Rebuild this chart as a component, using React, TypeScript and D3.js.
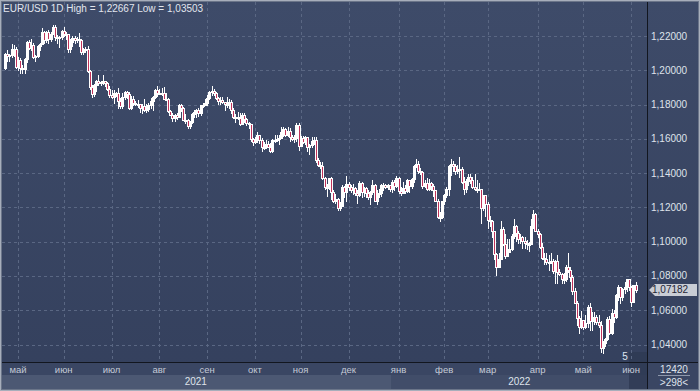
import * as d3 from "d3";
import { useEffect } from "react";

// trading days (Mon-Fri) from 23 Apr 2021 to 3 Jun 2022
const startDate = new Date(2021, 3, 23);
const endDate = new Date(2022, 5, 4);
const firstOpen = 1.2013; // close of 22 Apr 2021

const closes = [
  // apr 2021
  1.2096, 1.2084, 1.2089, 1.2125, 1.2125, 1.2020,
  // may
  1.2062, 1.2016, 1.2005, 1.2066, 1.2164, 1.2132, 1.2150, 1.2077, 1.2081, 1.2144, 1.2153, 1.2223, 1.2175, 1.2226, 1.2180, 1.2214, 1.2250, 1.2192, 1.2193, 1.2193, 1.2228,
  // jun
  1.2213, 1.2212, 1.2127, 1.2166, 1.2191, 1.2174, 1.2180, 1.2174, 1.2108, 1.2122, 1.2125, 1.1996, 1.1905, 1.1860, 1.1916, 1.1940, 1.1925, 1.1931, 1.1936, 1.1925, 1.1893, 1.1858,
  // jul
  1.1846, 1.1865, 1.1866, 1.1823, 1.1791, 1.1844, 1.1875, 1.1861, 1.1777, 1.1834, 1.1810, 1.1806, 1.1801, 1.1781, 1.1794, 1.1771, 1.1772, 1.1800, 1.1820, 1.1843, 1.1886, 1.1870,
  // aug
  1.1870, 1.1867, 1.1834, 1.1833, 1.1761, 1.1738, 1.1719, 1.1739, 1.1728, 1.1797, 1.1778, 1.1712, 1.1709, 1.1674, 1.1700, 1.1745, 1.1755, 1.1771, 1.1750, 1.1795, 1.1800, 1.1808,
  // sep
  1.1838, 1.1874, 1.1880, 1.1870, 1.1840, 1.1818, 1.1827, 1.1813, 1.1806, 1.1804, 1.1817, 1.1766, 1.1727, 1.1726, 1.1723, 1.1688, 1.1740, 1.1718, 1.1695, 1.1684, 1.1597, 1.1580,
  // oct
  1.1595, 1.1620, 1.1595, 1.1555, 1.1553, 1.1570, 1.1552, 1.1530, 1.1595, 1.1596, 1.1601, 1.1607, 1.1638, 1.1656, 1.1624, 1.1645, 1.1609, 1.1597, 1.1604, 1.1681, 1.1558,
  // nov
  1.1606, 1.1580, 1.1610, 1.1554, 1.1566, 1.1588, 1.1594, 1.1479, 1.1446, 1.1444, 1.1369, 1.1320, 1.1320, 1.1370, 1.1288, 1.1236, 1.1248, 1.1197, 1.1207, 1.1318, 1.1290, 1.1337,
  // dec
  1.1320, 1.1300, 1.1316, 1.1285, 1.1272, 1.1345, 1.1290, 1.1316, 1.1283, 1.1258, 1.1290, 1.1330, 1.1240, 1.1280, 1.1284, 1.1328, 1.1328, 1.1320, 1.1330, 1.1310, 1.1350, 1.1325, 1.1370,
  // jan 2022
  1.1295, 1.1286, 1.1315, 1.1296, 1.1359, 1.1325, 1.1365, 1.1440, 1.1455, 1.1410, 1.1405, 1.1325, 1.1345, 1.1310, 1.1345, 1.1325, 1.1300, 1.1240, 1.1145, 1.1145, 1.1235,
  // feb
  1.1270, 1.1305, 1.1440, 1.1455, 1.1440, 1.1415, 1.1425, 1.1425, 1.1350, 1.1305, 1.1355, 1.1375, 1.1360, 1.1320, 1.1305, 1.1310, 1.1305, 1.1195, 1.1270, 1.1220,
  // mar
  1.1125, 1.1120, 1.1065, 1.0930, 1.0855, 1.0900, 1.1075, 1.0985, 1.0915, 1.0940, 1.0955, 1.1035, 1.1090, 1.1050, 1.1015, 1.1030, 1.1005, 1.0995, 1.0985, 1.0985, 1.1090, 1.1160, 1.1065,
  // apr
  1.1045, 1.0970, 1.0905, 1.0900, 1.0880, 1.0875, 1.0890, 1.0830, 1.0890, 1.0825, 1.0810, 1.0780, 1.0785, 1.0855, 1.0835, 1.0795, 1.0710, 1.0640, 1.0555, 1.0500, 1.0545,
  // may
  1.0505, 1.0525, 1.0620, 1.0540, 1.0550, 1.0560, 1.0530, 1.0515, 1.0380, 1.0410, 1.0435, 1.0550, 1.0465, 1.0585, 1.0560, 1.0690, 1.0735, 1.0675, 1.0725, 1.0735, 1.0780, 1.0735,
  // jun
  1.0650, 1.0750, 1.07182,
];

const highs = [
  1.2100, 1.2117, 1.2093, 1.2151, 1.2150, 1.2135,
  1.2080, 1.2070, 1.2030, 1.2070, 1.2172, 1.2178, 1.2181, 1.2162, 1.2087, 1.2150, 1.2160, 1.2245, 1.2230, 1.2230, 1.2234, 1.2226, 1.22667, 1.2262, 1.2207, 1.2200, 1.2233,
  1.2254, 1.2226, 1.2214, 1.2185, 1.2200, 1.2198, 1.2195, 1.2218, 1.2180, 1.2132, 1.2137, 1.2140, 1.2000, 1.1912, 1.1922, 1.1942, 1.1975, 1.1940, 1.1975, 1.1940, 1.1932, 1.1907,
  1.1886, 1.1883, 1.1876, 1.1895, 1.1838, 1.1868, 1.1880, 1.1880, 1.1873, 1.1850, 1.1850, 1.1822, 1.1829, 1.1805, 1.1805, 1.1830, 1.1804, 1.1810, 1.1840, 1.1850, 1.1893, 1.1908,
  1.1892, 1.1896, 1.1900, 1.1865, 1.1840, 1.1771, 1.1750, 1.1745, 1.1749, 1.1801, 1.1805, 1.1785, 1.1747, 1.1714, 1.1702, 1.1750, 1.1770, 1.1775, 1.1780, 1.1800, 1.1809, 1.1832,
  1.1857, 1.1877, 1.1909, 1.1888, 1.1872, 1.1847, 1.1845, 1.1847, 1.1812, 1.1846, 1.1831, 1.1824, 1.1780, 1.1745, 1.1755, 1.1750, 1.1750, 1.1750, 1.1720, 1.1700, 1.1686, 1.1603,
  1.1610, 1.1640, 1.1624, 1.1605, 1.1581, 1.1595, 1.1590, 1.1575, 1.1600, 1.1624, 1.1620, 1.1620, 1.1669, 1.1668, 1.1665, 1.1670, 1.1664, 1.1625, 1.1625, 1.1692, 1.1692,
  1.1617, 1.1614, 1.1616, 1.1611, 1.1572, 1.1610, 1.1610, 1.1609, 1.1489, 1.1464, 1.1464, 1.1380, 1.1334, 1.1374, 1.1375, 1.1300, 1.1277, 1.1252, 1.1229, 1.1330, 1.1324, 1.1383,
  1.1350, 1.1333, 1.1335, 1.1320, 1.1300, 1.1355, 1.1350, 1.1320, 1.1318, 1.1300, 1.1296, 1.1360, 1.1336, 1.1300, 1.1306, 1.1334, 1.1340, 1.1338, 1.1334, 1.1330, 1.1360, 1.1360, 1.1386,
  1.1376, 1.1321, 1.1346, 1.1330, 1.1364, 1.1360, 1.1370, 1.1450, 1.1482, 1.1470, 1.1430, 1.1410, 1.1359, 1.1369, 1.1363, 1.1348, 1.1336, 1.1303, 1.1248, 1.1175, 1.1240,
  1.1280, 1.1317, 1.1450, 1.1483, 1.1468, 1.1451, 1.1448, 1.1495, 1.1435, 1.1375, 1.1366, 1.1395, 1.1392, 1.1380, 1.1395, 1.1360, 1.1345, 1.1310, 1.1275, 1.1275,
  1.1230, 1.1150, 1.1125, 1.1065, 1.0935, 1.0935, 1.1120, 1.1085, 1.1045, 1.1015, 1.1015, 1.1045, 1.1135, 1.1100, 1.1065, 1.1045, 1.1035, 1.1025, 1.1010, 1.1000, 1.1135, 1.1185, 1.1170,
  1.1075, 1.1050, 1.0990, 1.0935, 1.0935, 1.0920, 1.0935, 1.0900, 1.0895, 1.0925, 1.0840, 1.0815, 1.0815, 1.0865, 1.0935, 1.0855, 1.0805, 1.0730, 1.0655, 1.0565, 1.0595,
  1.0545, 1.0575, 1.0630, 1.0640, 1.0590, 1.0590, 1.0575, 1.0575, 1.0535, 1.0420, 1.0440, 1.0560, 1.0565, 1.0605, 1.0600, 1.0695, 1.0750, 1.0735, 1.0730, 1.0765, 1.0785, 1.0785,
  1.0740, 1.0750, 1.0765,
];

const lows = [
  1.2005, 1.2055, 1.2056, 1.2077, 1.2083, 1.2016,
  1.2000, 1.1986, 1.1986, 1.1985, 1.2050, 1.2124, 1.2120, 1.2071, 1.2052, 1.2077, 1.2121, 1.2152, 1.2162, 1.2165, 1.2162, 1.2172, 1.2211, 1.2175, 1.2158, 1.2134, 1.2185,
  1.2200, 1.2182, 1.2104, 1.2104, 1.2144, 1.2160, 1.2164, 1.2144, 1.2093, 1.2093, 1.2106, 1.1990, 1.1892, 1.1847, 1.1849, 1.1880, 1.1915, 1.1912, 1.1922, 1.1910, 1.1885, 1.1846,
  1.1836, 1.1808, 1.1852, 1.1782, 1.1781, 1.1782, 1.1834, 1.1838, 1.1772, 1.1773, 1.1800, 1.1796, 1.1786, 1.1755, 1.1752, 1.1760, 1.1754, 1.1765, 1.1780, 1.1770, 1.1839, 1.1852,
  1.1862, 1.1853, 1.1832, 1.1830, 1.1754, 1.1737, 1.1706, 1.1705, 1.1716, 1.1725, 1.1762, 1.1710, 1.1694, 1.1663, 1.1664, 1.1695, 1.1730, 1.1728, 1.1735, 1.1740, 1.1785, 1.1796,
  1.1800, 1.1835, 1.1858, 1.1856, 1.1833, 1.1802, 1.1801, 1.1808, 1.1771, 1.1785, 1.1780, 1.1751, 1.1722, 1.1701, 1.1715, 1.1683, 1.1685, 1.1700, 1.1680, 1.1665, 1.1590, 1.1563,
  1.1575, 1.1584, 1.1578, 1.1529, 1.1540, 1.1544, 1.1550, 1.1524, 1.1523, 1.1584, 1.1586, 1.1571, 1.1603, 1.1619, 1.1618, 1.1618, 1.1590, 1.1592, 1.1584, 1.1586, 1.1535,
  1.1562, 1.1575, 1.1570, 1.1528, 1.1513, 1.1555, 1.1570, 1.1465, 1.1443, 1.1432, 1.1367, 1.1307, 1.1264, 1.1310, 1.1249, 1.1234, 1.1226, 1.1186, 1.1185, 1.1206, 1.1258, 1.1236,
  1.1300, 1.1288, 1.1277, 1.1270, 1.1227, 1.1265, 1.1262, 1.1265, 1.1260, 1.1250, 1.1222, 1.1280, 1.1235, 1.1222, 1.1260, 1.1264, 1.1300, 1.1315, 1.1305, 1.1295, 1.1290, 1.1300, 1.1320,
  1.1285, 1.1271, 1.1285, 1.1285, 1.1290, 1.1290, 1.1315, 1.1350, 1.1438, 1.1400, 1.1395, 1.1313, 1.1320, 1.1300, 1.1300, 1.1301, 1.1265, 1.1235, 1.1137, 1.1121, 1.1140,
  1.1220, 1.1262, 1.1270, 1.1390, 1.1410, 1.1397, 1.1403, 1.1375, 1.1340, 1.1280, 1.1290, 1.1330, 1.1340, 1.1315, 1.1300, 1.1290, 1.1300, 1.1106, 1.1185, 1.1150,
  1.1080, 1.1090, 1.1030, 1.0900, 1.0805, 1.0850, 1.0900, 1.0980, 1.0905, 1.0925, 1.0940, 1.0950, 1.1020, 1.1005, 1.0995, 1.0995, 1.0965, 1.0965, 1.0960, 1.0945, 1.0985, 1.1080, 1.1060,
  1.1030, 1.0965, 1.0900, 1.0870, 1.0870, 1.0835, 1.0875, 1.0820, 1.0760, 1.0760, 1.0805, 1.0760, 1.0760, 1.0770, 1.0825, 1.0770, 1.0695, 1.0640, 1.0515, 1.0470, 1.0495,
  1.0490, 1.0495, 1.0505, 1.0485, 1.0485, 1.0520, 1.0520, 1.0505, 1.0355, 1.03503, 1.0390, 1.0425, 1.0460, 1.0460, 1.0530, 1.0555, 1.0660, 1.0640, 1.0660, 1.0700, 1.0715, 1.0720,
  1.0625, 1.0650, 1.0705,
];

const priceTicks = [1.04, 1.06, 1.08, 1.1, 1.12, 1.14, 1.16, 1.18, 1.2, 1.22];
const monthNames = ["янв", "фев", "мар", "апр", "май", "июн", "июл", "авг", "сен", "окт", "ноя", "дек"];
const symbol = "EUR/USD 1D";
const counterTop = "12420";
const counterBottom = ">298<";
const cursorMark = "5";

const width = 700;
const height = 391;
const plotRight = 647;
const plotBottom = 362;

const fmt = (v: number) => d3.format(".5f")(v).replace(".", ",");

export default function App() {
  useEffect(() => {
    document.body.style.margin = "0";
  }, []);

  const days = d3.timeDay
    .range(startDate, endDate)
    .filter((d) => d.getDay() !== 0 && d.getDay() !== 6)
    .slice(0, closes.length);

  const candles = closes.map((c, i) => {
    const o = i === 0 ? firstOpen : closes[i - 1];
    return {
      date: days[i],
      o,
      c,
      h: Math.max(highs[i], o, c),
      l: Math.min(lows[i], o, c),
    };
  });

  const x = d3.scaleLinear().domain([0, candles.length - 1]).range([5, 635.5]);
  const y = d3.scaleLinear().domain([1.04, 1.22]).range([344.5, 36]);

  // first trading day of every month
  const monthStarts = candles
    .map((d, i) => ({ d, i }))
    .filter(({ d, i }) => i > 0 && d.date.getMonth() !== candles[i - 1].date.getMonth());

  const yearSplit = monthStarts.find(({ d }) => d.date.getFullYear() === 2022)!;
  const splitX = x(yearSplit.i) - 7;

  const hi = d3.max(candles, (d) => d.h)!;
  const lo = d3.min(candles, (d) => d.l)!;
  const last = candles[candles.length - 1].c;
  const title = `${symbol} High = ${fmt(hi)} Low = ${fmt(lo)}`;

  const font = "'Liberation Sans', Arial, sans-serif";

  return (
    <svg width={width} height={height} style={{ display: "block", fontFamily: font }}>
      <defs>
        <linearGradient id="bg" x1="0" y1="0" x2="0" y2="1">
          <stop offset="0" stopColor="#3e4b69" />
          <stop offset="1" stopColor="#34405d" />
        </linearGradient>
      </defs>
      <rect x={0} y={0} width={width} height={height} fill="url(#bg)" />

      {/* bottom axis strip */}
      <rect x={0} y={plotBottom} width={width} height={height - plotBottom} fill="#3a4663" />
      <rect x={0} y={375} width={splitX} height={14} fill="#4c5873" />
      <rect x={splitX} y={375} width={plotRight - splitX} height={14} fill="#414d69" />
      <rect x={629} y={352} width={18} height={37} fill="#2e3952" opacity={0.8} />

      {/* grid */}
      <g stroke="#5a6783" strokeDasharray="3,3" strokeWidth={1}>
        {priceTicks.map((t) => (
          <line key={t} x1={2} x2={plotRight} y1={Math.round(y(t)) + 0.5} y2={Math.round(y(t)) + 0.5} />
        ))}
        {monthStarts.map(({ i }) => (
          <line key={i} x1={Math.round(x(i)) + 0.5} x2={Math.round(x(i)) + 0.5} y1={2} y2={plotBottom} />
        ))}
      </g>

      {/* candles */}
      <g>
        {candles.map((d, i) => {
          const cx = Math.round(x(i));
          const up = d.c >= d.o;
          const top = Math.round(y(Math.max(d.o, d.c)));
          const bot = Math.round(y(Math.min(d.o, d.c)));
          return (
            <g key={i}>
              <line
                x1={cx + 0.5}
                x2={cx + 0.5}
                y1={Math.round(y(d.h))}
                y2={Math.round(y(d.l)) + 1}
                stroke="#ffffff"
              />
              <rect
                x={cx - 0.5}
                y={top + 0.5}
                width={2}
                height={Math.max(bot - top, 1)}
                fill={up ? "#ffffff" : "#c0325a"}
                stroke="#ffffff"
              />
            </g>
          );
        })}
      </g>

      {/* separators */}
      <line x1={plotRight + 0.5} x2={plotRight + 0.5} y1={0} y2={height} stroke="#12161f" />
      <line x1={0} x2={width} y1={plotBottom + 0.5} y2={plotBottom + 0.5} stroke="#12161f" />

      {/* right axis */}
      <g fontSize={10} fill="#dfe3eb">
        {priceTicks.map((t) => (
          <text key={t} x={651} y={y(t) + 3.5}>
            {fmt(t)}
          </text>
        ))}
      </g>

      {/* last price marker */}
      <g>
        <path
          d={`M649,${y(last)} L655,${y(last) - 6} L697,${y(last) - 6} L697,${y(last) + 6} L655,${y(last) + 6} Z`}
          fill="#c9cdd5"
        />
        <text x={652} y={y(last) + 3.5} fontSize={10} fill="#1f2535">
          {fmt(last)}
        </text>
      </g>

      {/* month labels */}
      <g fontSize={9.5} fill="#c4cad6" textAnchor="middle">
        {monthStarts.map(({ d, i }) => (
          <text key={i} x={x(i)} y={372.5}>
            {monthNames[d.date.getMonth()]}
          </text>
        ))}
      </g>
      <g fontSize={10} fill="#dfe3eb" textAnchor="middle">
        <text x={splitX / 2} y={385}>
          {candles[0].date.getFullYear()}
        </text>
        <text x={(splitX + plotRight) / 2} y={385}>
          {yearSplit.d.date.getFullYear()}
        </text>
      </g>

      <text x={625} y={360} fontSize={10} fill="#dfe6f2" textAnchor="middle">
        {cursorMark}
      </text>

      {/* counters */}
      <g fontSize={10} fill="#dfe3eb" textAnchor="middle">
        <text x={674} y={373}>{counterTop}</text>
        <line x1={658} x2={690} y1={375.5} y2={375.5} stroke="#8d97aa" />
        <text x={674} y={386}>{counterBottom}</text>
      </g>

      {/* title */}
      <text x={3} y={12} fontSize={10} fill="#e2e6ee">
        {title}
      </text>

      {/* frame */}
      <rect x={0.5} y={0.5} width={width - 1} height={height - 1} fill="none" stroke="#a7aebb" />
      <rect x={1.5} y={1.5} width={width - 3} height={height - 3} fill="none" stroke="#6b7589" />
    </svg>
  );
}
